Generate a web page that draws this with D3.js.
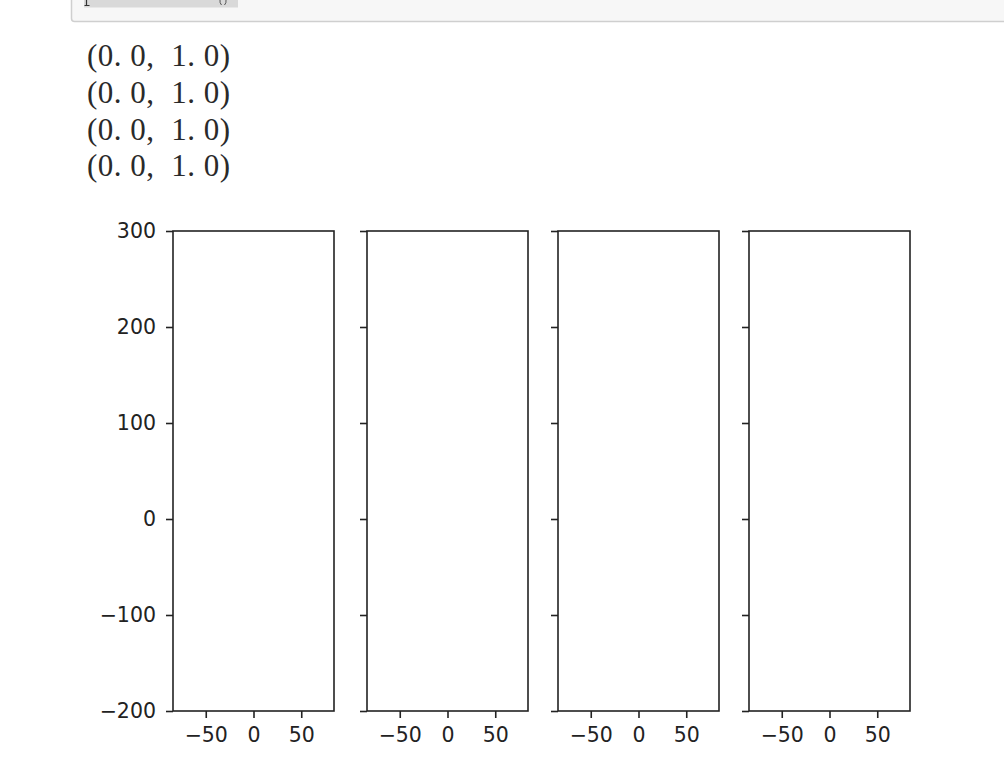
<!DOCTYPE html>
<html>
<head>
<meta charset="utf-8">
<script src="https://cdn.jsdelivr.net/npm/d3@7"></script>
<style>
  html, body { margin: 0; padding: 0; background: #fff; }
  svg { display: block; }
</style>
</head>
<body>
<svg id="chart" width="1004" height="760"></svg>
<script>
// ---- data ----
const printedLines = ["(0. 0,  1. 0)", "(0. 0,  1. 0)", "(0. 0,  1. 0)", "(0. 0,  1. 0)"];
const panels = ["ax1", "ax2", "ax3", "ax4"];
const xDomain = [-84.3, 84.3];
const yDomain = [-200, 300];
const xTicks = [-50, 0, 50];
const yTicks = [-200, -100, 0, 100, 200, 300];

(function () {
const svg = d3.select("#chart");

// notebook cell box (top, cut off)
svg.append("rect").attr("x", 71.5).attr("y", -10).attr("width", 1000).attr("height", 31.5)
  .attr("rx", 3).attr("fill", "#f7f7f7").attr("stroke", "#cfcfcf").attr("stroke-width", 1.5);
svg.append("rect").attr("x", 84).attr("y", 0).attr("width", 154).attr("height", 7.5)
  .attr("fill", "#d9d9d9");
// bottoms of the cut-off code glyphs
svg.append("path").attr("d", "M86.5,0 V5.5 M84.5,5.5 H89.5").attr("stroke", "#333").attr("stroke-width", 1.2).attr("fill", "none");
svg.append("path").attr("d", "M220,0 Q219.5,3 221.5,5 M226,0 Q226.5,3 224.5,5").attr("stroke", "#555").attr("stroke-width", 1).attr("fill", "none");

// printed output
svg.append("g").selectAll("text").data(printedLines).join("text")
  .attr("x", 87)
  .attr("y", (d, i) => 66 + i * 36.8)
  .attr("font-family", "Liberation Serif")
  .attr("font-size", 31)
  .attr("fill", "#2a2a2a")
  .attr("textLength", 143)
  .attr("lengthAdjust", "spacing")
  .attr("xml:space", "preserve")
  .style("white-space", "pre")
  .text(d => d);

// panels
const lefts = [173, 367, 558, 749];
const pw = 161;
const plotTop = 231, plotBottom = 711;
const y = d3.scaleLinear().domain(yDomain).range([plotBottom, plotTop]);
const stroke = "#222";
const fontSize = 20.5;
const fmt = d => d < 0 ? "\u2212" + Math.abs(d) : String(d);

panels.forEach((p, i) => {
  const x = d3.scaleLinear().domain(xDomain).range([lefts[i], lefts[i] + pw]);
  const g = svg.append("g").attr("class", p);

  const xAxis = d3.axisBottom(x).tickValues(xTicks).tickSize(7).tickPadding(9).tickFormat(fmt);
  const gx = g.append("g").attr("transform", `translate(0,${plotBottom})`).call(xAxis);
  gx.select(".domain").remove();
  gx.selectAll(".tick line").attr("stroke", stroke).attr("stroke-width", 1.6);
  gx.selectAll(".tick text").attr("font-family", "DejaVu Sans").attr("font-size", fontSize)
    .attr("fill", stroke).attr("dy", "0.75em");

  const yAxis = d3.axisLeft(y).tickValues(yTicks).tickSize(7).tickPadding(10)
    .tickFormat(i === 0 ? fmt : () => "");
  const gy = g.append("g").attr("transform", `translate(${lefts[i]},0)`).call(yAxis);
  gy.select(".domain").remove();
  gy.selectAll(".tick line").attr("stroke", stroke).attr("stroke-width", 1.6);
  gy.selectAll(".tick text").attr("font-family", "DejaVu Sans").attr("font-size", fontSize)
    .attr("fill", stroke);

  g.append("rect")
    .attr("x", x.range()[0]).attr("y", plotTop)
    .attr("width", x.range()[1] - x.range()[0]).attr("height", plotBottom - plotTop)
    .attr("fill", "none").attr("stroke", stroke).attr("stroke-width", 1.6);
});
})();
</script>
</body>
</html>
